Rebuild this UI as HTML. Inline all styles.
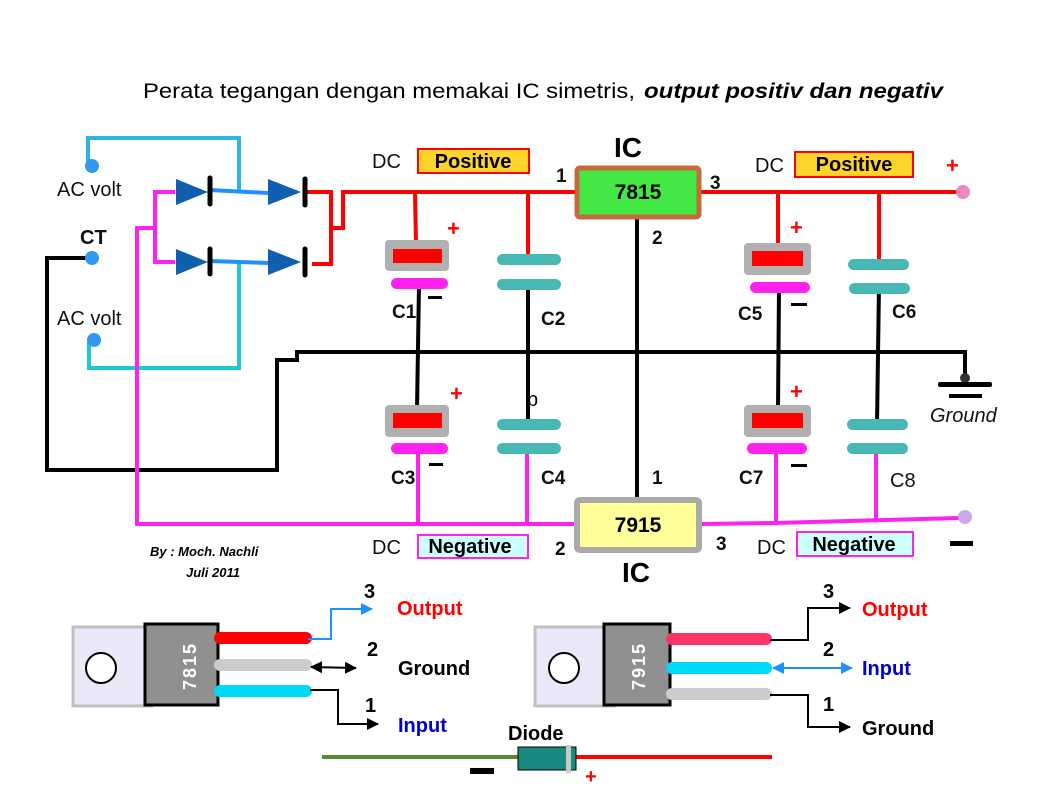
<!DOCTYPE html>
<html><head><meta charset="utf-8"><style>html,body{margin:0;padding:0;background:#fff}svg{display:block}</style></head><body>
<svg width="1058" height="794" viewBox="0 0 1058 794" xmlns="http://www.w3.org/2000/svg" font-family="Liberation Sans, Arial, sans-serif">
<defs>
<marker id="ak" markerWidth="12" markerHeight="12" refX="11" refY="6" orient="auto" markerUnits="userSpaceOnUse"><path d="M0,0 L12,6 L0,12z" fill="#000"/></marker>
<marker id="akb" markerWidth="12" markerHeight="12" refX="1" refY="6" orient="auto" markerUnits="userSpaceOnUse"><path d="M12,0 L0,6 L12,12z" fill="#000"/></marker>
<marker id="abl" markerWidth="12" markerHeight="12" refX="11" refY="6" orient="auto" markerUnits="userSpaceOnUse"><path d="M0,0 L12,6 L0,12z" fill="#1e90ff"/></marker>
<marker id="ablb" markerWidth="12" markerHeight="12" refX="1" refY="6" orient="auto" markerUnits="userSpaceOnUse"><path d="M12,0 L0,6 L12,12z" fill="#1e90ff"/></marker>
</defs>
<text x="143" y="98" font-size="21" fill="#000" textLength="492" lengthAdjust="spacingAndGlyphs">Perata tegangan dengan memakai IC simetris,</text>
<text x="644" y="98" font-size="21" fill="#000" font-weight="bold" font-style="italic" textLength="299" lengthAdjust="spacingAndGlyphs">output positiv dan negativ</text>
<g fill="none" stroke-width="4" stroke-linejoin="miter">
<polyline points="88,164 88,138 239,138 239,191" stroke="#29b6e0"/>
<polyline points="89,342 89,368 239,368 239,263" stroke="#1ec8d0"/>
<polyline points="88,258 47,258 47,470 277,470 277,360 297,360 297,352 965,352 965,380" stroke="#000"/>
<polyline points="175,192 155,192 155,262 175,262" stroke="#ff22ee"/>
<polyline points="155,228 137,228 137,524 575,524" stroke="#ff22ee"/>
<polyline points="700,524 775,523 960,518" stroke="#ff22ee"/>
<line x1="418" y1="450" x2="418" y2="524" stroke="#ff22ee"/>
<line x1="527" y1="445" x2="527" y2="524" stroke="#ff22ee"/>
<line x1="776" y1="450" x2="776" y2="523" stroke="#ff22ee"/>
<line x1="876" y1="450" x2="876" y2="520" stroke="#ff22ee"/>
<polyline points="305,192 331,192 331,264 312,264" stroke="#f00"/>
<polyline points="331,228 343,228 343,192 575,192" stroke="#f00"/>
<line x1="415" y1="192" x2="416" y2="245" stroke="#f00"/>
<line x1="528" y1="192" x2="528" y2="259" stroke="#f00"/>
<line x1="700" y1="192" x2="958" y2="192" stroke="#f00"/>
<line x1="778" y1="192" x2="778" y2="247" stroke="#f00"/>
<line x1="879" y1="192" x2="879" y2="265" stroke="#f00"/>
<line x1="210" y1="190" x2="268" y2="193" stroke="#1e90ff"/>
<line x1="210" y1="261" x2="268" y2="263" stroke="#1e90ff"/>
<line x1="419" y1="284" x2="417" y2="410" stroke="#000"/>
<line x1="528" y1="284" x2="528" y2="425" stroke="#000"/>
<line x1="637" y1="218" x2="637" y2="498" stroke="#000"/>
<line x1="779" y1="288" x2="778" y2="410" stroke="#000"/>
<line x1="879" y1="285" x2="877" y2="425" stroke="#000"/>
</g>
<g fill="#3399ee"><circle cx="92" cy="166" r="7"/><circle cx="92" cy="258" r="7"/><circle cx="94" cy="340" r="7"/></g>
<circle cx="963" cy="192" r="7" fill="#ee88bb"/>
<circle cx="965" cy="517" r="7" fill="#c8a8e8"/>
<g fill="#1060b0">
<path d="M176,179 L208,192 L176,205z"/><path d="M268,179 L301,192 L268,205z"/>
<path d="M176,249 L208,262 L176,275z"/><path d="M268,249 L301,262 L268,275z"/>
</g>
<g stroke="#000" stroke-width="5" stroke-linecap="round">
<line x1="210" y1="178" x2="210" y2="204"/><line x1="305" y1="179" x2="305" y2="205"/>
<line x1="210" y1="249" x2="210" y2="274"/><line x1="305" y1="249" x2="305" y2="275"/>
</g>
<g>
<rect x="385" y="240" width="64" height="31" rx="4" fill="#b0b0b0"/><rect x="393" y="249" width="49" height="14" fill="#f00"/><rect x="391" y="278" width="57" height="11" rx="5.5" fill="#ff22ee"/>
<rect x="385" y="405" width="64" height="32" rx="4" fill="#b0b0b0"/><rect x="393" y="413" width="49" height="15" fill="#f00"/><rect x="391" y="443" width="57" height="11" rx="5.5" fill="#ff22ee"/>
<rect x="744" y="243" width="67" height="32" rx="4" fill="#b0b0b0"/><rect x="752" y="251" width="51" height="15" fill="#f00"/><rect x="750" y="282" width="60" height="11" rx="5.5" fill="#ff22ee"/>
<rect x="744" y="405" width="67" height="32" rx="4" fill="#b0b0b0"/><rect x="752" y="413" width="51" height="15" fill="#f00"/><rect x="747" y="443" width="60" height="11" rx="5.5" fill="#ff22ee"/>
</g>
<g fill="#48b8b4">
<rect x="497" y="254" width="64" height="11" rx="5.5"/><rect x="497" y="279" width="64" height="11" rx="5.5"/>
<rect x="497" y="419" width="64" height="11" rx="5.5"/><rect x="497" y="443" width="64" height="11" rx="5.5"/>
<rect x="848" y="259" width="61" height="11" rx="5.5"/><rect x="849" y="283" width="61" height="11" rx="5.5"/>
<rect x="847" y="419" width="61" height="11" rx="5.5"/><rect x="847" y="443" width="61" height="11" rx="5.5"/>
</g>
<rect x="577" y="168" width="122" height="49" rx="3" fill="#44e844" stroke="#c8693a" stroke-width="5"/>
<text x="638" y="199" font-size="21" font-weight="bold" text-anchor="middle">7815</text>
<rect x="577" y="500" width="122" height="50" rx="3" fill="#ffff99" stroke="#aaaaaa" stroke-width="6"/>
<text x="638" y="532" font-size="21" font-weight="bold" text-anchor="middle">7915</text>
<circle cx="965" cy="378" r="5" fill="#333"/>
<rect x="938" y="382" width="54" height="5" rx="2" fill="#000"/>
<rect x="949" y="394" width="33" height="4" fill="#000"/>
<g font-size="20" fill="#111">
<text x="57" y="196">AC volt</text><text x="57" y="325">AC volt</text>
<text x="80" y="244" font-weight="bold">CT</text>
<text x="372" y="168">DC</text><text x="755" y="172">DC</text>
<text x="372" y="554">DC</text><text x="757" y="554">DC</text>
<text x="930" y="422" font-style="italic">Ground</text>
<text x="890" y="487">C8</text>
</g>
<rect x="418" y="149" width="111" height="24" fill="#ffd42a" stroke="#f00" stroke-width="2"/>
<text x="473" y="168" font-size="20" font-weight="bold" text-anchor="middle">Positive</text>
<rect x="795" y="152" width="118" height="25" fill="#ffd42a" stroke="#f00" stroke-width="2"/>
<text x="854" y="171" font-size="20" font-weight="bold" text-anchor="middle">Positive</text>
<rect x="418" y="535" width="110" height="23" fill="#ccffff" stroke="#ff22ee" stroke-width="2"/>
<text x="470" y="553" font-size="20" font-weight="bold" text-anchor="middle">Negative</text>
<rect x="797" y="532" width="116" height="24" fill="#ccffff" stroke="#ff22ee" stroke-width="2"/>
<text x="854" y="551" font-size="20" font-weight="bold" text-anchor="middle">Negative</text>
<g font-size="19" font-weight="bold" fill="#111">
<text x="392" y="318">C1</text><text x="541" y="325">C2</text><text x="391" y="484">C3</text><text x="541" y="484">C4</text>
<text x="738" y="320">C5</text><text x="892" y="318">C6</text><text x="739" y="484">C7</text>
<text x="556" y="182">1</text><text x="710" y="189">3</text><text x="652" y="244">2</text>
<text x="652" y="484">1</text><text x="555" y="555">2</text><text x="716" y="550">3</text>
</g>
<text x="527" y="406" font-size="20">p</text>
<g font-size="28" font-weight="bold"><text x="614" y="157">IC</text><text x="622" y="582">IC</text></g>
<g font-size="22" font-weight="bold" fill="#f00">
<text x="447" y="236">+</text><text x="450" y="401">+</text><text x="790" y="235">+</text><text x="790" y="399">+</text><text x="946" y="173">+</text>
</g>
<g fill="#000"><rect x="428" y="296" width="14" height="3"/><rect x="429" y="463" width="14" height="3"/><rect x="791" y="303" width="16" height="3"/><rect x="791" y="464" width="16" height="3"/><rect x="950" y="541" width="23" height="5"/></g>
<text x="150" y="556" font-size="13" font-weight="bold" font-style="italic">By : Moch. Nachli</text>
<text x="186" y="577" font-size="13" font-weight="bold" font-style="italic">Juli 2011</text>
<rect x="73" y="627" width="79" height="79" fill="#e8e8f8" stroke="#c0c0c0" stroke-width="3"/>
<circle cx="101" cy="668" r="15" fill="#fff" stroke="#000" stroke-width="2"/>
<rect x="145" y="624" width="73" height="81" fill="#909090" stroke="#000" stroke-width="3"/>
<text transform="translate(196,666) rotate(-90)" font-size="18" font-weight="bold" fill="#fff" text-anchor="middle" letter-spacing="2">7815</text>
<g stroke-width="12" stroke-linecap="round"><line x1="220" y1="638" x2="306" y2="638" stroke="#f00"/><line x1="220" y1="665" x2="306" y2="665" stroke="#cccccc"/><line x1="220" y1="691" x2="306" y2="691" stroke="#00d8f8"/></g>
<polyline points="308,639 331,639 331,609 372,609" fill="none" stroke="#1e90ff" stroke-width="2" marker-end="url(#abl)"/>
<line x1="311" y1="667" x2="356" y2="668" stroke="#000" stroke-width="2" marker-start="url(#akb)" marker-end="url(#ak)"/>
<polyline points="310,690 338,690 338,724 378,724" fill="none" stroke="#000" stroke-width="2" marker-end="url(#ak)"/>
<rect x="535" y="627" width="79" height="79" fill="#e8e8f8" stroke="#c0c0c0" stroke-width="3"/>
<circle cx="564" cy="668" r="15" fill="#fff" stroke="#000" stroke-width="2"/>
<rect x="604" y="624" width="66" height="81" fill="#909090" stroke="#000" stroke-width="3"/>
<text transform="translate(645,666) rotate(-90)" font-size="18" font-weight="bold" fill="#fff" text-anchor="middle" letter-spacing="2">7915</text>
<g stroke-width="12" stroke-linecap="round"><line x1="672" y1="639" x2="766" y2="639" stroke="#ff3366"/><line x1="672" y1="668" x2="766" y2="668" stroke="#00d8f8"/><line x1="672" y1="694" x2="766" y2="694" stroke="#cccccc"/></g>
<polyline points="770,640 808,640 808,608 850,608" fill="none" stroke="#000" stroke-width="2" marker-end="url(#ak)"/>
<line x1="773" y1="668" x2="852" y2="668" stroke="#1e90ff" stroke-width="2" marker-start="url(#ablb)" marker-end="url(#abl)"/>
<polyline points="770,695 808,695 808,727 850,727" fill="none" stroke="#000" stroke-width="2" marker-end="url(#ak)"/>
<g font-size="20" font-weight="bold">
<text x="364" y="598">3</text><text x="367" y="656">2</text><text x="365" y="712">1</text>
<text x="397" y="615" fill="#f00">Output</text><text x="398" y="675">Ground</text><text x="398" y="732" fill="#00c">Input</text>
<text x="823" y="598">3</text><text x="823" y="656">2</text><text x="823" y="711">1</text>
<text x="862" y="616" fill="#f00">Output</text><text x="862" y="675" fill="#00c">Input</text><text x="862" y="735">Ground</text>
<text x="508" y="740">Diode</text>
</g>
<line x1="322" y1="757" x2="520" y2="757" stroke="#5a8a30" stroke-width="4"/>
<line x1="575" y1="757" x2="772" y2="757" stroke="#f00" stroke-width="4"/>
<rect x="518" y="747" width="58" height="23" fill="#1a8a80" stroke="#000" stroke-width="1"/>
<rect x="566" y="745" width="5" height="28" fill="#c8c8c8"/>
<rect x="470" y="768" width="24" height="6" fill="#000"/>
<text x="585" y="783" font-size="20" font-weight="bold" fill="#f00">+</text>
</svg>
</body></html>
